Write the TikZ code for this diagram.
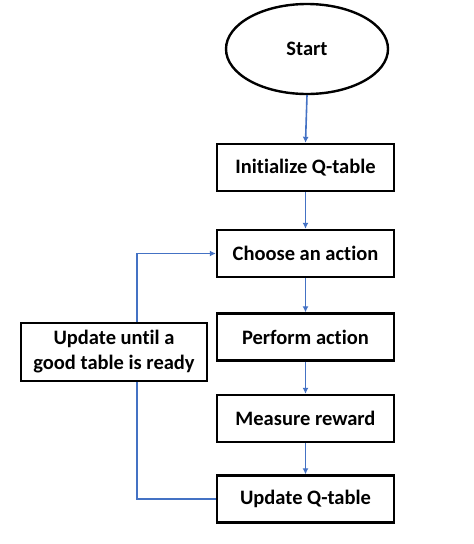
\documentclass[tikz,border=0pt]{standalone}
\usepackage{fontspec}
\setmainfont[Ligatures=NoCommon]{Carlito}
\usetikzlibrary{shapes.geometric,arrows.meta}
\definecolor{lineblue}{RGB}{68,114,196}
\begin{document}
\begin{tikzpicture}[x=1pt,y=-1pt,
  box/.style={draw=black,line width=2.4pt,fill=white,minimum width=177pt,minimum height=47pt,inner sep=0pt,font=\fontsize{20.5}{25}\selectfont\bfseries},
  oval/.style={draw=black,line width=2.4pt,ellipse,minimum width=162pt,minimum height=90pt,inner sep=0pt,font=\fontsize{20.5}{25}\selectfont\bfseries},
  conn/.style={draw=lineblue,line width=1.6pt,-{Latex[length=6pt,width=6pt]}}]
\useasboundingbox (0,0) rectangle (474,544);
\node[oval] (start) at (307,49) {Start};
\node[box] (init) at (305.5,167.5) {Initialize Q-table};
\node[box] (choose) at (305.5,253.5) {Choose an action};
\node[box] (perform) at (305.5,337) {Perform action};
\node[box] (measure) at (305.5,418.5) {Measure reward};
\node[box] (updq) at (305.5,499) {Update Q-table};
\coordinate (corner) at (137,499);
\draw[conn] (start.south) -- (init.north);
\draw[conn] (init.south) -- (choose.north);
\draw[conn] (choose.south) -- (perform.north);
\draw[conn] (perform.south) -- (measure.north);
\draw[conn] (measure.south) -- (updq.north);
\draw[conn] (updq.west) -- (corner) |- (choose.west);
\node[box,minimum width=186pt,minimum height=58pt,align=center] (loop) at (114,352) {Update until a\\good table is ready};
\end{tikzpicture}
\end{document}
